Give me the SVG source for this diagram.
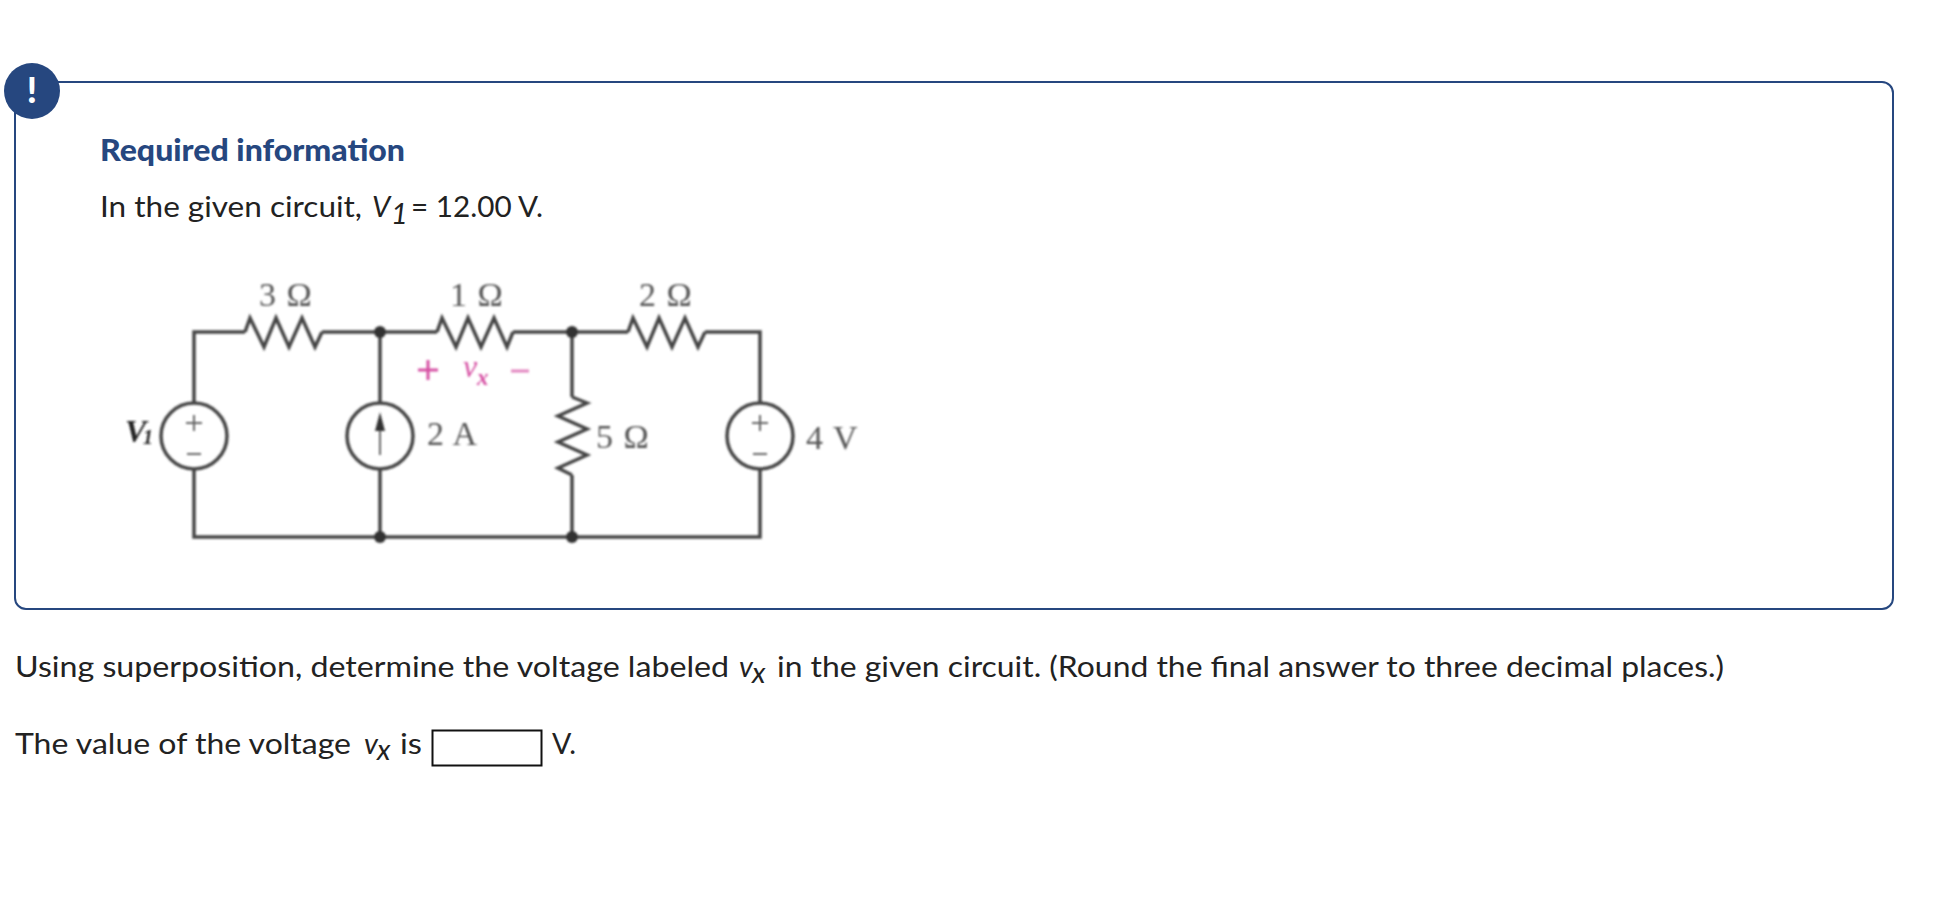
<svg xmlns="http://www.w3.org/2000/svg" width="1938" height="920" viewBox="0 0 1938 920">
<style>
.t{font-family:"Lato","Open Sans","Liberation Sans",sans-serif;font-size:29px;fill:#222}
.i{font-style:italic}
.c{font-family:"Liberation Serif",serif;font-size:34px;fill:#555;letter-spacing:1px}
.w{fill:none;stroke:#444;stroke-width:3.500;stroke-linejoin:miter}
.d{fill:#333}
.p{fill:none;stroke:#d64fa3;stroke-width:3}
.s{fill:none;stroke:#666;stroke-width:2}
</style>
<defs><filter id="b" x="-5%" y="-5%" width="110%" height="110%"><feGaussianBlur stdDeviation="0.9"/></filter></defs>
<rect width="1938" height="920" fill="#fff"/>
<g id="panel">
<rect x="15" y="82" width="1878" height="527" rx="11" fill="none" stroke="#26477f" stroke-width="2"/>
<ellipse cx="32" cy="91" rx="28" ry="28" fill="#26477f"/>
<text x="32" y="103" text-anchor="middle" style="font-family:Lato,sans-serif;font-weight:900;font-size:36px;fill:#fff">!</text>
<text x="100" y="161" textLength="305" lengthAdjust="spacingAndGlyphs" style="font-family:Lato,sans-serif;font-weight:900;font-size:30px;fill:#26477f">Required information</text>
<text class="t" x="100" y="217" textLength="262" lengthAdjust="spacingAndGlyphs">In the given circuit,</text>
<text class="t i" x="372" y="217">V</text>
<text class="t i" x="391" y="224">1</text>
<text class="t" x="411" y="217" textLength="132" lengthAdjust="spacingAndGlyphs">= 12.00 V.</text>
</g>
<g id="circuit" filter="url(#b)">
<g id="connectors">
<path class="w" d="M194 403V332H245M322 332H437M513 332H628M705 332H760V403M194 469V537H760V469M380 332V403M380 469V537M572 332V397M572 475V537"/>
</g>
<g id="r1"><path class="w" d="M245 332L250 318L264 347L276 318L289 347L302 318L315 347L322 332"/><text class="c" x="286" y="306" text-anchor="middle">3 Ω</text></g>
<g id="r2"><path class="w" d="M437 332L442 318L456 347L468 318L481 347L494 318L507 347L513 332"/><text class="c" x="477" y="306" text-anchor="middle">1 Ω</text></g>
<g id="r3"><path class="w" d="M628 332L633 318L647 347L659 318L672 347L685 318L698 347L705 332"/><text class="c" x="666" y="306" text-anchor="middle">2 Ω</text></g>
<g id="r5"><path class="w" d="M572 397L587 403L558 416L587 429L558 442L587 455L558 468L572 475"/><text class="c" x="596" y="448">5 Ω</text></g>
<g id="v1"><circle class="w" cx="194" cy="436" r="33"/><path class="s" d="M186 423H202M194 415V431M187 454H201"/>
<text x="125" y="442" style="font-family:'Liberation Serif',serif;font-weight:700;font-style:italic;font-size:32px;fill:#222">V</text>
<text x="143" y="444" style="font-family:'Liberation Serif',serif;font-weight:700;font-style:italic;font-size:20px;fill:#222">1</text></g>
<g id="is"><circle class="w" cx="380" cy="436" r="33"/><path class="s" d="M380 455V428"/><path d="M380 412L385 431H375Z" fill="#333"/><text class="c" x="427" y="445">2 A</text></g>
<g id="v4"><circle class="w" cx="760" cy="436" r="33"/><path class="s" d="M752 423H768M760 415V431M753 454H767"/><text class="c" x="806" y="449">4 V</text></g>
<g id="nodes"><circle class="d" cx="380" cy="332" r="6"/><circle class="d" cx="572" cy="332" r="6"/><circle class="d" cx="380" cy="537" r="6"/><circle class="d" cx="572" cy="537" r="6"/></g>
<g id="vx"><path class="p" d="M418 370H438M428 360V380"/><path class="p" d="M511 371H529" stroke-opacity="0.7"/>
<text x="463" y="377" style="font-family:'Liberation Serif',serif;font-style:italic;font-size:32px;fill:#d64fa3">v</text>
<text x="477" y="385" style="font-family:'Liberation Serif',serif;font-style:italic;font-weight:700;font-size:23px;fill:#d64fa3">x</text></g>
</g>
<g id="question">
<text class="t" x="15" y="677" textLength="714" lengthAdjust="spacingAndGlyphs">Using superposition, determine the voltage labeled</text>
<text class="t i" x="739" y="677">v</text>
<text class="t i" x="752" y="683">x</text>
<text class="t" x="777" y="677" textLength="947" lengthAdjust="spacingAndGlyphs">in the given circuit. (Round the final answer to three decimal places.)</text>
<text class="t" x="15" y="754" textLength="336" lengthAdjust="spacingAndGlyphs">The value of the voltage</text>
<text class="t i" x="364" y="754">v</text>
<text class="t i" x="377" y="760">x</text>
<text class="t" x="400" y="754" textLength="22" lengthAdjust="spacingAndGlyphs">is</text>
<rect x="432.500" y="730.500" width="109" height="35" fill="#fff" stroke="#111" stroke-width="2"/>
<text class="t" x="552" y="754" textLength="24" lengthAdjust="spacingAndGlyphs">V.</text>
</g>
</svg>
